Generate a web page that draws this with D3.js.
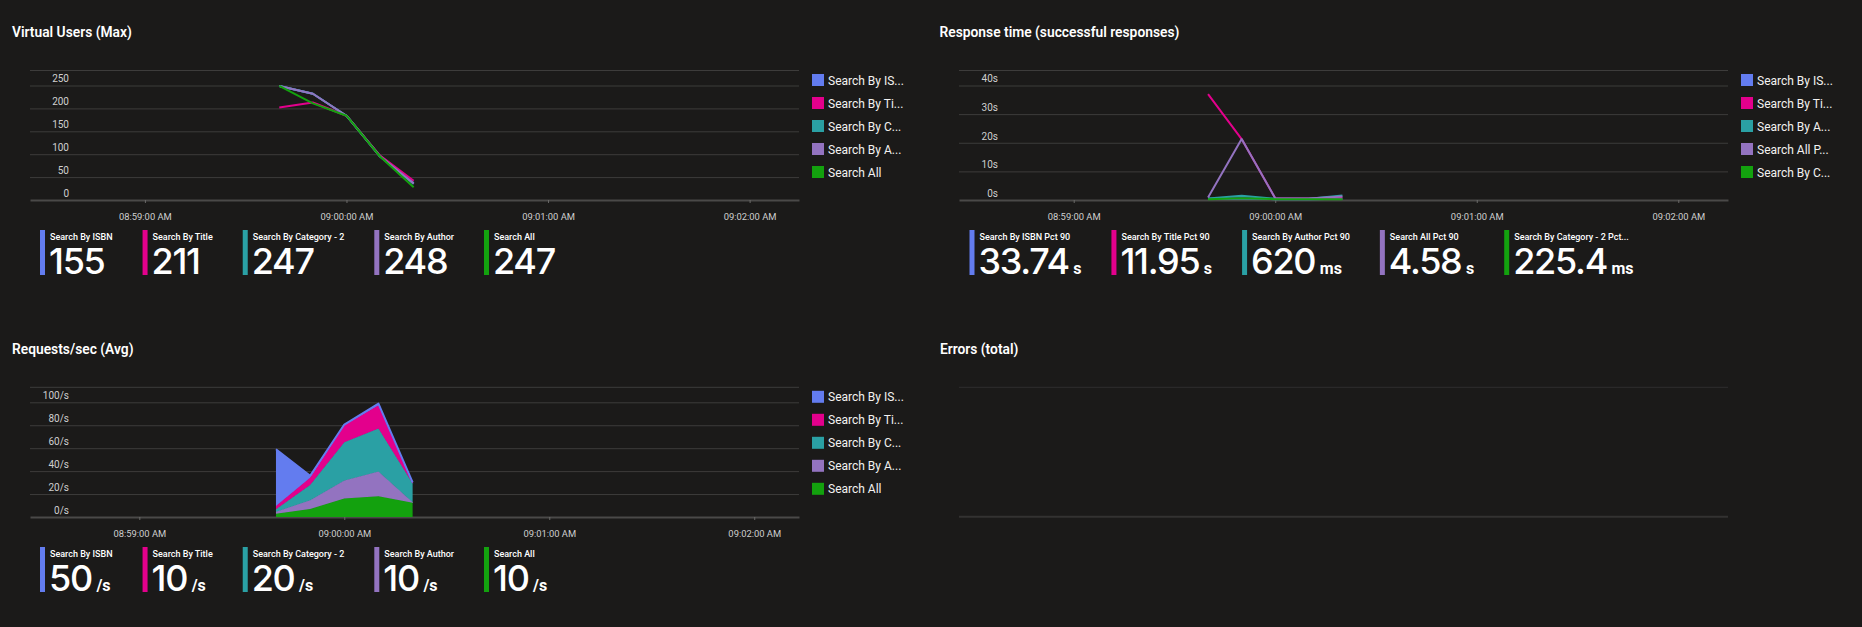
<!DOCTYPE html>
<html><head><meta charset="utf-8">
<script src="https://cdn.jsdelivr.net/npm/d3@7"></script>
<style>
html,body{margin:0;padding:0;background:#1b1a19;overflow:hidden;}
svg{display:block;font-family:Roboto,"Noto Sans",sans-serif;}
.num{font-family:Inter,Roboto,sans-serif;font-variant-numeric:proportional-nums;}
</style></head><body>
<svg id="c" width="1862" height="627"></svg>
<script>
// ---------------- data ----------------
const seriesNames   = ["Search By ISBN","Search By Title","Search By Category - 2","Search By Author","Search All"];
const legendLabels  = ["Search By IS...","Search By Ti...","Search By C...","Search By A...","Search All"];
const rtSeriesNames = ["Search By ISBN Pct 90","Search By Title Pct 90","Search By Author Pct 90","Search All Pct 90","Search By Category - 2 Pct 90"];
const rtLegendLabels= ["Search By IS...","Search By Ti...","Search By A...","Search All P...","Search By C..."];
const rtCardLabels  = ["Search By ISBN Pct 90","Search By Title Pct 90","Search By Author Pct 90","Search All Pct 90","Search By Category - 2 Pct..."];
const seriesColors  = ["#637cef","#e3008c","#2aa0a4","#9373c0","#13a10e"];
const rtColors      = ["#637cef","#e3008c","#2aa0a4","#9373c0","#13a10e"];

const sampleTimes = ["08:59:40","08:59:50","09:00:00","09:00:10","09:00:20"];

// Virtual users (max)
const vuISBN     = [249,232,184,96,37];
const vuTitle    = [202,213,184,97,42];
const vuCategory = [249,232,184,95,35];
const vuAuthor   = [249,232,184,95,36];
const vuAll      = [249,211,184,95,28];
const vuStats    = ["155","211","247","248","247"];

// Response time pct 90 (seconds)
const rtISBN     = [0.4,0.5,0.3,0.3,0.4];
const rtTitle    = [37,21.3,0.6,0.5,1.0];
const rtAuthor   = [0.5,1.5,0.4,0.4,1.6];
const rtAll      = [0.9,21.3,0.6,0.5,1.2];
const rtCategory = [0.3,0.6,0.3,0.3,0.3];
const rtStatValues = ["33.74","11.95","620","4.58","225.4"];
const rtStatUnits  = ["s","s","ms","s","ms"];

// Requests/sec (avg), stacked
const rpsISBN     = [49.5,1.8,0.6,1.4,0.6];
const rpsTitle    = [2.9,6.4,14.8,20.3,0.3];
const rpsCategory = [2.1,13.3,33.3,37.4,16.5];
const rpsAuthor   = [1.7,7.5,15.7,21.7,0.3];
const rpsAll      = [2.9,7.0,16.2,18.0,12.5];
const rpsStats    = ["50","10","20","10","10"];
const rpsUnit     = "/s";

const vuTicks  = [0,50,100,150,200,250];
const rtTicks  = [0,10,20,30,40];
const rpsTicks = [0,20,40,60,80,100];

const titles = ["Virtual Users (Max)","Response time (successful responses)","Requests/sec (Avg)","Errors (total)"];

// ---------------- helpers ----------------
const parseT = s => { const [h,m,x] = s.split(":").map(Number); return new Date(Date.UTC(2024,0,1,h,m,x)); };
const times = sampleTimes.map(parseT);
const t9 = parseT("09:00:00");
const addS = (d,s) => new Date(+d + s*1000);
const fmtTime = d3.utcFormat("%I:%M:%S %p");

const svg = d3.select("#c");
svg.append("rect").attr("width",1862).attr("height",627).attr("fill","#1b1a19");

const GRID = "#3d3c3b", AXIS = "#4a4948", TICKTXT = "#cfcfcf";

function frame(cfg){
  const g = svg.append("g");
  const x = d3.scaleUtc().domain(cfg.xDomain).range([cfg.left, cfg.right]);
  const tickMax = cfg.yTicks[cfg.yTicks.length-1];
  const yMax = tickMax * (cfg.bottom - cfg.top) / (cfg.bottom - cfg.top - 15);
  const y = d3.scaleLinear().domain([0,yMax]).range([cfg.bottom, cfg.top]);
  g.append("line").attr("x1",cfg.left).attr("x2",cfg.right).attr("y1",cfg.top).attr("y2",cfg.top)
    .attr("stroke",GRID).attr("stroke-width",1);
  const ya = d3.axisLeft(y).tickValues(cfg.yTicks).tickSize(-(cfg.right-cfg.left)).tickFormat(cfg.yFmt);
  const yg = g.append("g").attr("transform",`translate(${cfg.left},0)`).call(ya);
  yg.select(".domain").remove();
  yg.selectAll(".tick line").attr("stroke",GRID).attr("stroke-width",1)
    .attr("display",d=>d===0?"none":null);
  yg.selectAll(".tick text").attr("x",39).attr("y",-7).attr("dy","0.33em").attr("text-anchor","end")
    .attr("fill",TICKTXT).attr("font-size",10).attr("font-family","Roboto, sans-serif");
  const xa = d3.axisBottom(x).ticks(d3.utcMinute.every(1)).tickFormat(fmtTime).tickSizeInner(3).tickSizeOuter(0).tickPadding(10);
  const xg = g.append("g").attr("transform",`translate(0,${cfg.bottom})`).call(xa);
  xg.select(".domain").attr("stroke",AXIS).attr("stroke-width",2);
  xg.selectAll(".tick line").attr("stroke","#6a6968");
  xg.selectAll(".tick text").attr("fill",TICKTXT).attr("font-size",9.4).attr("font-family","Roboto, sans-serif");
  return {g,x,y};
}

function legend(cfg, labels, colors){
  const lg = svg.append("g").attr("transform",`translate(${cfg.right+13},${cfg.top+3.5})`);
  labels.forEach((l,i)=>{
    const r = lg.append("g").attr("transform",`translate(0,${i*23})`);
    r.append("rect").attr("width",12).attr("height",12).attr("fill",colors[i]);
    r.append("text").attr("x",16).attr("y",10.5).attr("fill","#f3f2f1").attr("font-size",12).text(l);
  });
}

function cards(x0, yTop, labels, values, units, colors){
  let x = x0;
  labels.forEach((l,i)=>{
    const c = svg.append("g").attr("transform",`translate(${x},${yTop})`);
    c.append("rect").attr("width",5).attr("height",45).attr("fill",colors[i]);
    const lt = c.append("text").attr("x",10).attr("y",9.8).attr("fill","#ffffff")
      .attr("font-size",9).attr("font-weight",500).text(l);
    const vt = c.append("text").attr("class","num").attr("x",9).attr("y",44).attr("fill","#ffffff")
      .attr("font-size",36).attr("font-weight",500).attr("letter-spacing",-1.3).text(values[i]);
    let vw = vt.node().getComputedTextLength() - 1.5;
    const u = units ? (Array.isArray(units)?units[i]:units) : null;
    if(u){
      const ut = c.append("text").attr("x",10+vw+5).attr("y",44).attr("fill","#ffffff")
        .attr("font-size",16).attr("font-weight",700).text(u);
      vw += 5 + ut.node().getComputedTextLength();
    }
    const w = Math.max(lt.node().getComputedTextLength(), vw);
    x += 10 + w + 30;
  });
}

function title(x, y, t){
  svg.append("text").attr("x",x).attr("y",y).attr("fill","#ffffff").attr("font-size",13.8)
    .attr("font-weight",600).text(t);
}

// ---------------- Virtual users ----------------
title(12, 36.5, titles[0]);
const vuCfg = {left:30,right:799,top:70.5,bottom:200,
  xDomain:[addS(t9,-94.2),addS(t9,134.7)], yTicks:vuTicks, yFmt:d=>String(d)};
{
  const {g,x,y} = frame(vuCfg);
  const sets = [vuISBN,vuTitle,vuCategory,vuAuthor,vuAll];
  const line = d3.line().x((d,i)=>x(times[i])).y(d=>y(d));
  sets.forEach((s,k)=>{
    g.append("path").datum(s).attr("d",line).attr("fill","none").attr("stroke",seriesColors[k])
      .attr("stroke-width",2).attr("stroke-linejoin","round");
  });
  legend(vuCfg, legendLabels, seriesColors);
  cards(40, vuCfg.bottom+30, seriesNames, vuStats, null, seriesColors);
}

// ---------------- Response time ----------------
title(939.5, 36.5, titles[1]);
const rtCfg = {left:959,right:1728,top:70.5,bottom:200,
  xDomain:[addS(t9,-94.15),addS(t9,134.8)], yTicks:rtTicks, yFmt:d=>d+"s"};
{
  const {g,x,y} = frame(rtCfg);
  const sets = [rtISBN,rtTitle,rtAuthor,rtAll,rtCategory];
  const line = d3.line().x((d,i)=>x(times[i])).y(d=>y(d));
  sets.forEach((s,k)=>{
    g.append("path").datum(s).attr("d",line).attr("fill","none").attr("stroke",rtColors[k])
      .attr("stroke-width",2).attr("stroke-linejoin","round");
  });
  legend(rtCfg, rtLegendLabels, rtColors);
  cards(969.5, rtCfg.bottom+30, rtCardLabels, rtStatValues, rtStatUnits, rtColors);
}

// ---------------- Requests/sec ----------------
title(12, 354, titles[2]);
const rpsCfg = {left:30,right:799,top:387.3,bottom:517,
  xDomain:[addS(t9,-92.0),addS(t9,133.1)], yTicks:rpsTicks, yFmt:d=>d+"/s"};
{
  const {g,x,y} = frame(rpsCfg);
  const sets = [rpsISBN,rpsTitle,rpsCategory,rpsAuthor,rpsAll];
  const rows = times.map((t,i)=>{ const o={t}; sets.forEach((s,k)=>o["s"+k]=s[i]); return o; });
  const keys = [4,3,2,1,0].map(k=>"s"+k);
  const stacked = d3.stack().keys(keys)(rows);
  const area = d3.area().x(d=>x(d.data.t)).y0(d=>y(d[0])).y1(d=>y(d[1]));
  const topLine = d3.line().x(d=>x(d.data.t)).y(d=>y(d[1]));
  stacked.forEach(layer=>{
    const k = +layer.key.slice(1);
    g.append("path").datum(layer).attr("d",area).attr("fill",seriesColors[k]);
    g.append("path").datum(layer).attr("d",topLine).attr("fill","none").attr("stroke",seriesColors[k])
      .attr("stroke-width",k===0?2:1).attr("stroke-linejoin","round");
  });
  legend(rpsCfg, legendLabels, seriesColors);
  cards(40, rpsCfg.bottom+30, seriesNames, rpsStats, rpsUnit, seriesColors);
}

// ---------------- Errors ----------------
title(940, 354, titles[3]);
svg.append("line").attr("x1",959).attr("x2",1728).attr("y1",387.3).attr("y2",387.3).attr("stroke","#2f2e2d").attr("stroke-width",1);
svg.append("line").attr("x1",959).attr("x2",1728).attr("y1",516.7).attr("y2",516.7).attr("stroke","#333231").attr("stroke-width",2);
</script>
</body></html>
